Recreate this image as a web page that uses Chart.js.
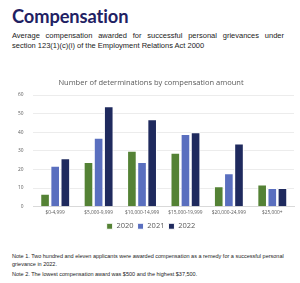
<!DOCTYPE html>
<html><head><meta charset="utf-8">
<script src="https://cdn.jsdelivr.net/npm/chart.js@4"></script>
<style>
html,body{margin:0;padding:0;background:#fff;width:300px;height:283px;overflow:hidden;}
#h{position:absolute;left:12px;top:5px;font-family:"Lato",sans-serif;font-weight:700;font-size:18.3px;color:#1f2163;letter-spacing:-0.1px;}
#sub{position:absolute;left:12px;top:31px;width:272px;font-family:"Liberation Sans",sans-serif;font-size:7.5px;line-height:10px;color:#222;}
#sub .l1{text-align:justify;text-align-last:justify;}
#wrap{position:absolute;left:0;top:72px;width:300px;height:168px;}
.note{position:absolute;left:12px;width:282px;font-family:"Liberation Sans",sans-serif;font-size:5.5px;line-height:8px;color:#222;}
</style></head><body>
<div id="h">Compensation</div>
<div id="sub"><div class="l1">Average compensation awarded for successful personal grievances under</div><div>section 123(1)(c)(i) of the Employment Relations Act 2000</div></div>
<div id="wrap"><canvas id="c" width="300" height="168"></canvas></div>
<div class="note" style="top:252px">Note 1. Two hundred and eleven applicants were awarded compensation as a remedy for a successful personal grievance in 2022.</div>
<div class="note" style="top:270px">Note 2. The lowest compensation award was $500 and the highest $37,500.</div>
<script>
const categories = ["$0-4,999","$5,000-9,999","$10,000-14,999","$15,000-19,999","$20,000-24,999","$25,000+"];
const years = ["2020","2021","2022"];
const v2020 = [7,24,30,29,11,12];
const v2021 = [22,37,24,39,18,10];
const v2022 = [26,54,47,40,34,10];
const yTicks = [0,10,20,30,40,50,60];
const colors = ["#548235","#5a6fbf","#1f2a5e"];
const series = [v2020,v2021,v2022];
new Chart(document.getElementById('c'),{
  type:'bar',
  data:{labels:categories,datasets:series.map((d,i)=>({label:years[i],data:d,backgroundColor:colors[i],borderColor:'#ffffff',borderWidth:1,categoryPercentage:0.7,barPercentage:0.95}))},
  options:{
    responsive:false,animation:false,
    layout:{padding:{left:8,right:6,top:2,bottom:0}},
    plugins:{
      title:{display:true,text:"Number of determinations by compensation amount",font:{family:"Open Sans",size:7.5,weight:'normal'},color:'#595959',padding:{top:4,bottom:8}},
      legend:{position:'bottom',labels:{boxWidth:6,boxHeight:6,font:{family:"Open Sans",size:7.5},color:'#595959',padding:4}},
      tooltip:{enabled:false}
    },
    scales:{
      x:{grid:{display:false,drawTicks:false,tickLength:0},border:{display:true,color:'#d9d9d9'},ticks:{font:{family:"Open Sans",size:4.8},color:'#595959',maxRotation:0,autoSkip:false,padding:3}},
      y:{min:0,max:60,afterBuildTicks:a=>{a.ticks=yTicks.map(v=>({value:v}));},grid:{color:'#ececec',drawTicks:false},border:{display:false},ticks:{font:{family:"Open Sans",size:4.8},color:'#595959',padding:10}}
    }
  }
});
</script></body></html>
